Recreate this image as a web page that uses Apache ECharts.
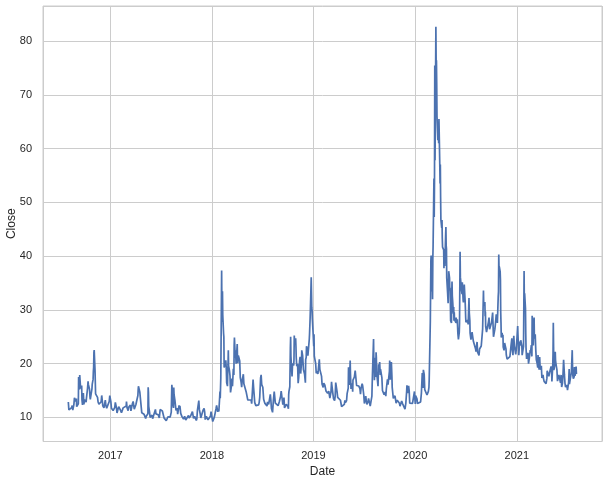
<!DOCTYPE html>
<html>
<head>
<meta charset="utf-8">
<script src="https://cdn.jsdelivr.net/npm/echarts@6/dist/echarts.min.js"></script>
<style>
html,body{margin:0;padding:0;background:#fff;}
#chart{width:608px;height:482px;}
</style>
</head>
<body>
<div id="chart"></div>
<script>
// Dates and closing values
const dates = [
"2016-08-03","2016-08-05","2016-08-09","2016-08-11","2016-08-15","2016-08-17","2016-08-19","2016-08-23","2016-08-25","2016-08-26","2016-08-30","2016-09-01","2016-09-02","2016-09-06","2016-09-08","2016-09-09","2016-09-12","2016-09-13","2016-09-14","2016-09-15","2016-09-16","2016-09-19","2016-09-20","2016-09-21","2016-09-23","2016-09-26","2016-09-28","2016-09-30","2016-10-04","2016-10-06","2016-10-07","2016-10-11","2016-10-13","2016-10-14","2016-10-18","2016-10-20","2016-10-21","2016-10-25","2016-10-27","2016-10-28","2016-10-31","2016-11-01","2016-11-02","2016-11-03","2016-11-04","2016-11-07","2016-11-08","2016-11-09","2016-11-10","2016-11-11","2016-11-14","2016-11-16","2016-11-18","2016-11-21","2016-11-23","2016-11-25","2016-11-29","2016-12-01","2016-12-02","2016-12-05","2016-12-07","2016-12-09","2016-12-12","2016-12-14","2016-12-16","2016-12-19","2016-12-21","2016-12-23","2016-12-28","2016-12-30",
"2017-01-03","2017-01-05","2017-01-09","2017-01-11","2017-01-13","2017-01-17","2017-01-19","2017-01-23","2017-01-25","2017-01-27","2017-01-31","2017-02-02","2017-02-06","2017-02-08","2017-02-10","2017-02-14","2017-02-16","2017-02-21","2017-02-23","2017-02-27","2017-02-28","2017-03-02","2017-03-06","2017-03-08","2017-03-10","2017-03-14","2017-03-16","2017-03-20","2017-03-21","2017-03-22","2017-03-24","2017-03-28","2017-03-30","2017-04-03","2017-04-05","2017-04-07","2017-04-10","2017-04-11","2017-04-12","2017-04-13","2017-04-17","2017-04-19","2017-04-21","2017-04-24","2017-04-26","2017-04-28","2017-05-02","2017-05-04","2017-05-08","2017-05-10","2017-05-12","2017-05-16","2017-05-17","2017-05-18","2017-05-19","2017-05-22","2017-05-24","2017-05-26","2017-05-31","2017-06-02","2017-06-06","2017-06-08","2017-06-09","2017-06-12","2017-06-14","2017-06-16","2017-06-20","2017-06-22","2017-06-26","2017-06-29","2017-06-30","2017-07-05","2017-07-07","2017-07-11","2017-07-13","2017-07-17","2017-07-19","2017-07-21","2017-07-25","2017-07-27","2017-07-31","2017-08-02","2017-08-04","2017-08-08","2017-08-09","2017-08-10","2017-08-11","2017-08-14","2017-08-15","2017-08-16","2017-08-17","2017-08-18","2017-08-21","2017-08-23","2017-08-25","2017-08-29","2017-08-31","2017-09-05","2017-09-07","2017-09-08","2017-09-11","2017-09-13","2017-09-15","2017-09-19","2017-09-21","2017-09-25","2017-09-27","2017-09-29","2017-10-03","2017-10-05","2017-10-09","2017-10-11","2017-10-13","2017-10-17","2017-10-19","2017-10-23","2017-10-25","2017-10-27","2017-10-31","2017-11-02","2017-11-06","2017-11-08","2017-11-10","2017-11-14","2017-11-15","2017-11-17","2017-11-20","2017-11-22","2017-11-24","2017-11-28","2017-11-30","2017-12-04","2017-12-06","2017-12-08","2017-12-12","2017-12-14","2017-12-18","2017-12-20","2017-12-22","2017-12-27","2017-12-29",
"2018-01-02","2018-01-04","2018-01-08","2018-01-10","2018-01-12","2018-01-16","2018-01-18","2018-01-22","2018-01-24","2018-01-26","2018-01-29","2018-01-30","2018-01-31","2018-02-01","2018-02-02","2018-02-05","2018-02-06","2018-02-07","2018-02-08","2018-02-09","2018-02-12","2018-02-13","2018-02-14","2018-02-15","2018-02-16","2018-02-20","2018-02-22","2018-02-23","2018-02-26","2018-02-27","2018-02-28","2018-03-01","2018-03-02","2018-03-05","2018-03-07","2018-03-09","2018-03-12","2018-03-14","2018-03-16","2018-03-19","2018-03-21","2018-03-22","2018-03-23","2018-03-26","2018-03-27","2018-03-28","2018-03-29","2018-04-02","2018-04-03","2018-04-04","2018-04-06","2018-04-09","2018-04-11","2018-04-13","2018-04-16","2018-04-18","2018-04-20","2018-04-24","2018-04-26","2018-04-30","2018-05-02","2018-05-04","2018-05-08","2018-05-10","2018-05-14","2018-05-16","2018-05-18","2018-05-22","2018-05-24","2018-05-29","2018-05-31","2018-06-04","2018-06-06","2018-06-08","2018-06-12","2018-06-14","2018-06-18","2018-06-20","2018-06-22","2018-06-25","2018-06-27","2018-06-29","2018-07-03","2018-07-06","2018-07-10","2018-07-12","2018-07-16","2018-07-18","2018-07-20","2018-07-24","2018-07-26","2018-07-30","2018-08-01","2018-08-03","2018-08-07","2018-08-09","2018-08-10","2018-08-13","2018-08-15","2018-08-17","2018-08-21","2018-08-23","2018-08-27","2018-08-29","2018-08-31","2018-09-05","2018-09-07","2018-09-11","2018-09-13","2018-09-17","2018-09-19","2018-09-21","2018-09-25","2018-09-27","2018-10-01","2018-10-03","2018-10-04","2018-10-05","2018-10-08","2018-10-09","2018-10-10","2018-10-11","2018-10-12","2018-10-15","2018-10-16","2018-10-17","2018-10-18","2018-10-19","2018-10-22","2018-10-23","2018-10-24","2018-10-25","2018-10-26","2018-10-29","2018-10-30","2018-10-31","2018-11-02","2018-11-05","2018-11-07","2018-11-08","2018-11-09","2018-11-12","2018-11-14","2018-11-15","2018-11-16","2018-11-19","2018-11-20","2018-11-23","2018-11-26","2018-11-28","2018-11-30","2018-12-03","2018-12-04","2018-12-06","2018-12-07","2018-12-10","2018-12-12","2018-12-14","2018-12-17","2018-12-18","2018-12-19","2018-12-20","2018-12-21","2018-12-24","2018-12-26","2018-12-27","2018-12-28","2018-12-31",
"2019-01-02","2019-01-03","2019-01-04","2019-01-07","2019-01-09","2019-01-11","2019-01-15","2019-01-17","2019-01-22","2019-01-24","2019-01-28","2019-01-30","2019-02-01","2019-02-05","2019-02-07","2019-02-11","2019-02-13","2019-02-15","2019-02-19","2019-02-21","2019-02-25","2019-02-27","2019-03-01","2019-03-05","2019-03-07","2019-03-08","2019-03-12","2019-03-14","2019-03-18","2019-03-20","2019-03-22","2019-03-25","2019-03-27","2019-03-29","2019-04-02","2019-04-04","2019-04-08","2019-04-10","2019-04-12","2019-04-16","2019-04-18","2019-04-22","2019-04-24","2019-04-26","2019-04-30","2019-05-02","2019-05-06","2019-05-07","2019-05-09","2019-05-10","2019-05-13","2019-05-14","2019-05-16","2019-05-20","2019-05-22","2019-05-23","2019-05-28","2019-05-30","2019-05-31","2019-06-03","2019-06-05","2019-06-07","2019-06-11","2019-06-13","2019-06-17","2019-06-19","2019-06-21","2019-06-25","2019-06-27","2019-07-01","2019-07-03","2019-07-08","2019-07-10","2019-07-12","2019-07-16","2019-07-18","2019-07-22","2019-07-24","2019-07-26","2019-07-30","2019-07-31","2019-08-01","2019-08-02","2019-08-05","2019-08-06","2019-08-07","2019-08-08","2019-08-09","2019-08-12","2019-08-13","2019-08-14","2019-08-15","2019-08-16","2019-08-19","2019-08-21","2019-08-23","2019-08-26","2019-08-27","2019-08-29","2019-08-30","2019-09-04","2019-09-06","2019-09-10","2019-09-12","2019-09-16","2019-09-18","2019-09-20","2019-09-24","2019-09-26","2019-09-30","2019-10-01","2019-10-02","2019-10-03","2019-10-04","2019-10-07","2019-10-08","2019-10-10","2019-10-11","2019-10-15","2019-10-17","2019-10-21","2019-10-23","2019-10-25","2019-10-29","2019-10-31","2019-11-04","2019-11-06","2019-11-08","2019-11-12","2019-11-14","2019-11-18","2019-11-20","2019-11-22","2019-11-26","2019-11-29","2019-12-02","2019-12-03","2019-12-05","2019-12-09","2019-12-11","2019-12-13","2019-12-17","2019-12-19","2019-12-23","2019-12-26","2019-12-30","2019-12-31",
"2020-01-02","2020-01-03","2020-01-06","2020-01-08","2020-01-10","2020-01-14","2020-01-16","2020-01-21","2020-01-23","2020-01-24","2020-01-27","2020-01-28","2020-01-30","2020-01-31","2020-02-03","2020-02-05","2020-02-07","2020-02-11","2020-02-13","2020-02-18","2020-02-20","2020-02-21","2020-02-24","2020-02-25","2020-02-26","2020-02-27","2020-02-28","2020-03-02","2020-03-03","2020-03-04","2020-03-05","2020-03-06","2020-03-09","2020-03-10","2020-03-11","2020-03-12","2020-03-13","2020-03-16","2020-03-17","2020-03-18","2020-03-19","2020-03-20","2020-03-23","2020-03-24","2020-03-25","2020-03-26","2020-03-27","2020-03-30","2020-03-31","2020-04-01","2020-04-02","2020-04-03","2020-04-06","2020-04-07","2020-04-08","2020-04-09","2020-04-13","2020-04-14","2020-04-15","2020-04-16","2020-04-17","2020-04-20","2020-04-21","2020-04-22","2020-04-23","2020-04-24","2020-04-27","2020-04-28","2020-04-29","2020-04-30","2020-05-01","2020-05-04","2020-05-05","2020-05-06","2020-05-07","2020-05-08","2020-05-11","2020-05-12","2020-05-13","2020-05-14","2020-05-15","2020-05-18","2020-05-19","2020-05-20","2020-05-21","2020-05-22","2020-05-26","2020-05-27","2020-05-28","2020-05-29","2020-06-01","2020-06-02","2020-06-03","2020-06-04","2020-06-05","2020-06-08","2020-06-09","2020-06-10","2020-06-11","2020-06-12","2020-06-15","2020-06-16","2020-06-17","2020-06-18","2020-06-19","2020-06-22","2020-06-23","2020-06-24","2020-06-25","2020-06-26","2020-06-29","2020-06-30","2020-07-01","2020-07-02","2020-07-06","2020-07-08","2020-07-10","2020-07-13","2020-07-14","2020-07-16","2020-07-17","2020-07-20","2020-07-22","2020-07-24","2020-07-27","2020-07-29","2020-07-31","2020-08-04","2020-08-06","2020-08-07","2020-08-11","2020-08-13","2020-08-14","2020-08-18","2020-08-20","2020-08-24","2020-08-26","2020-08-28","2020-08-31","2020-09-02","2020-09-03","2020-09-04","2020-09-08","2020-09-09","2020-09-10","2020-09-11","2020-09-14","2020-09-16","2020-09-18","2020-09-21","2020-09-23","2020-09-24","2020-09-25","2020-09-29","2020-09-30","2020-10-02","2020-10-05","2020-10-06","2020-10-08","2020-10-09","2020-10-12","2020-10-14","2020-10-16","2020-10-19","2020-10-21","2020-10-23","2020-10-26","2020-10-27","2020-10-28","2020-10-29","2020-10-30","2020-11-02","2020-11-03","2020-11-04","2020-11-05","2020-11-06","2020-11-09","2020-11-10","2020-11-12","2020-11-13","2020-11-16","2020-11-18","2020-11-20","2020-11-23","2020-11-24","2020-11-27","2020-11-30","2020-12-02","2020-12-04","2020-12-07","2020-12-09","2020-12-11","2020-12-14","2020-12-16","2020-12-18","2020-12-21","2020-12-22","2020-12-23","2020-12-28","2020-12-30","2020-12-31",
"2021-01-04","2021-01-05","2021-01-06","2021-01-08","2021-01-11","2021-01-12","2021-01-14","2021-01-15","2021-01-19","2021-01-20","2021-01-22","2021-01-25","2021-01-26","2021-01-27","2021-01-28","2021-01-29","2021-02-01","2021-02-02","2021-02-03","2021-02-05","2021-02-08","2021-02-10","2021-02-12","2021-02-16","2021-02-18","2021-02-19","2021-02-22","2021-02-23","2021-02-24","2021-02-25","2021-02-26","2021-03-01","2021-03-03","2021-03-04","2021-03-05","2021-03-08","2021-03-10","2021-03-12","2021-03-15","2021-03-17","2021-03-18","2021-03-22","2021-03-24","2021-03-26","2021-03-30","2021-04-01","2021-04-05","2021-04-07","2021-04-09","2021-04-12","2021-04-14","2021-04-16","2021-04-19","2021-04-20","2021-04-22","2021-04-26","2021-04-28","2021-04-30","2021-05-03","2021-05-04","2021-05-06","2021-05-07","2021-05-10","2021-05-11","2021-05-12","2021-05-13","2021-05-14","2021-05-17","2021-05-18","2021-05-19","2021-05-20","2021-05-21","2021-05-25","2021-05-27","2021-06-01","2021-06-03","2021-06-07","2021-06-09","2021-06-11","2021-06-14","2021-06-16","2021-06-18","2021-06-21","2021-06-23","2021-06-25","2021-06-29","2021-07-01","2021-07-02","2021-07-06","2021-07-08","2021-07-09","2021-07-12","2021-07-14","2021-07-16","2021-07-19","2021-07-20","2021-07-21","2021-07-23","2021-07-26","2021-07-27","2021-07-29","2021-07-30","2021-08-02","2021-08-03"
];
const closes = [
12.86,11.39,11.50,11.68,11.81,12.19,11.34,12.38,13.63,13.65,12.94,13.48,11.98,12.02,12.51,17.50,15.16,17.85,18.14,16.30,15.37,15.53,15.92,13.30,12.29,14.50,12.39,13.29,13.63,12.84,13.48,15.36,16.69,16.12,15.28,13.75,13.34,13.46,15.36,16.19,17.06,18.56,19.32,22.08,22.51,18.71,18.74,14.38,14.74,14.17,14.48,13.72,12.85,12.42,12.43,12.34,12.90,14.07,14.12,12.14,12.22,11.75,12.64,13.19,12.20,11.71,11.43,11.44,12.95,14.04,
12.85,11.67,11.56,11.26,11.23,11.87,12.78,11.77,10.81,10.58,11.99,11.93,11.37,11.45,10.85,10.74,11.76,11.57,11.71,12.09,12.92,11.81,11.24,11.86,11.66,12.30,11.21,11.34,12.47,12.81,12.96,11.53,11.54,12.38,12.89,12.87,14.05,15.07,15.77,15.96,14.66,14.93,14.63,10.84,10.85,10.82,10.59,10.46,9.77,10.21,10.40,10.65,15.59,14.66,12.04,10.93,9.99,9.81,10.41,9.75,10.45,10.16,10.70,11.46,10.64,10.38,10.86,10.48,9.90,11.44,11.18,11.07,11.19,10.89,9.90,9.82,9.79,9.36,9.43,10.11,10.26,10.28,10.03,10.96,11.11,16.04,15.51,12.33,12.04,11.74,15.55,14.26,13.19,12.25,11.28,11.70,10.59,12.23,11.55,12.12,10.73,10.50,10.17,10.18,9.67,10.21,9.87,9.51,9.51,9.19,10.33,9.85,9.61,10.31,10.05,11.07,11.23,9.80,10.18,9.93,9.40,9.78,11.29,11.59,13.13,11.43,10.65,9.88,9.67,10.03,11.28,11.68,11.02,9.58,10.18,10.49,9.53,9.72,9.90,10.25,11.04,
9.77,9.22,9.52,10.08,10.16,11.66,12.22,11.03,11.47,11.08,13.84,14.79,13.54,13.47,17.31,37.32,29.98,27.73,33.46,29.06,25.61,24.97,19.26,19.13,19.46,20.60,18.72,16.49,15.80,18.59,19.85,22.47,19.59,18.73,17.76,14.64,15.78,17.23,15.80,19.02,17.86,23.34,24.87,21.03,22.50,22.87,19.97,23.62,21.10,20.06,21.49,21.77,20.47,17.41,16.56,15.60,16.88,18.02,16.24,15.93,15.97,14.77,14.71,13.23,12.93,13.42,13.42,13.22,12.53,17.02,15.43,12.74,12.40,12.18,12.35,12.12,12.31,12.79,13.77,17.33,17.91,16.09,15.60,13.37,12.64,12.58,12.83,12.10,12.86,12.41,12.14,14.26,13.15,11.64,10.93,11.27,13.16,14.78,14.64,12.64,12.86,12.41,12.16,12.25,12.86,13.91,14.88,13.22,12.37,13.68,11.75,11.68,12.42,12.41,12.00,11.61,14.22,14.82,15.69,15.95,22.96,24.98,21.31,21.30,17.62,17.40,20.06,19.89,19.64,20.71,25.23,24.22,24.16,24.70,23.35,21.23,19.51,19.96,16.36,16.72,17.36,20.45,21.25,19.98,18.14,20.10,22.48,21.52,18.90,18.49,18.07,16.44,20.74,21.19,23.23,22.64,21.46,21.63,24.52,25.58,25.58,28.38,30.11,36.07,30.41,29.96,28.34,25.42,
23.22,25.45,21.38,21.40,19.98,18.19,18.60,18.06,20.80,18.89,18.87,17.66,16.14,15.57,16.37,15.97,15.65,14.91,14.88,14.46,14.85,14.70,13.57,14.74,16.59,16.05,14.33,13.50,13.10,13.91,16.48,16.33,14.68,13.71,13.36,13.58,13.18,13.30,12.01,12.32,12.09,12.42,13.14,12.73,13.12,14.42,15.44,19.32,19.10,16.04,20.55,18.06,15.29,16.31,14.75,16.92,17.50,17.30,18.71,18.86,15.93,16.30,15.99,15.82,15.35,14.33,15.40,16.28,15.82,14.06,12.57,13.96,13.03,12.39,12.86,13.53,13.53,12.07,12.16,13.94,16.12,17.87,17.61,24.59,20.17,19.49,16.91,17.97,21.09,17.52,22.10,21.18,18.47,16.88,15.80,19.87,19.32,20.31,17.88,18.98,17.33,15.00,15.20,14.22,14.67,13.95,15.32,17.05,16.07,16.24,18.56,20.56,19.12,17.04,17.86,20.28,17.57,15.58,13.54,13.79,14.00,14.01,12.65,13.20,13.22,12.83,12.62,12.07,11.99,13.05,12.46,12.78,12.34,11.54,12.62,14.91,15.96,14.52,15.86,14.99,12.63,12.29,12.50,12.61,12.65,14.82,13.78,
12.47,14.02,13.85,13.45,12.56,12.39,12.32,12.85,12.98,14.56,18.23,16.28,15.49,18.84,17.97,15.15,15.47,15.18,14.15,14.83,15.56,17.08,25.03,27.85,27.56,39.16,40.11,33.42,36.82,31.99,39.62,41.94,54.46,47.30,53.90,75.47,57.83,82.69,75.91,76.45,72.00,66.04,61.59,61.67,63.95,61.00,65.54,57.08,53.54,57.06,50.91,46.80,45.24,46.70,43.35,41.67,41.17,37.76,40.84,40.11,38.15,43.83,45.41,41.98,41.38,35.93,33.29,33.57,31.23,34.15,37.19,35.97,33.61,34.12,31.44,27.98,27.57,33.04,35.28,32.61,31.89,29.30,30.53,27.99,29.53,28.16,28.01,27.62,28.59,27.51,28.23,26.84,25.66,25.81,24.52,25.81,27.57,27.57,40.79,36.09,34.40,33.67,33.47,32.94,35.12,31.77,31.37,33.84,32.22,34.73,31.78,30.43,28.62,27.68,27.94,28.08,27.29,32.19,29.52,28.00,25.68,24.46,24.32,25.84,24.74,24.10,24.46,23.76,22.65,22.21,24.03,22.13,22.05,21.51,22.72,22.37,23.27,22.96,26.41,26.57,33.60,30.75,31.46,28.81,29.71,26.87,25.85,26.04,25.83,27.78,28.58,28.51,26.38,26.27,26.37,27.63,27.96,29.48,26.36,25.00,25.07,26.40,27.41,29.18,28.65,27.55,32.46,33.35,40.28,37.59,38.02,37.13,35.55,29.57,27.58,24.86,25.75,24.80,25.35,23.10,22.45,23.84,23.70,22.66,21.64,20.84,20.57,21.17,20.79,21.30,22.27,23.31,24.72,22.50,21.57,25.16,24.23,23.31,21.70,22.77,22.75,
26.97,25.34,25.07,21.56,24.08,23.33,23.25,24.34,23.24,21.58,21.91,23.19,23.02,37.21,30.21,33.09,30.24,25.56,22.91,20.87,21.24,21.99,19.97,21.46,22.49,22.05,23.45,23.11,21.34,28.89,27.95,23.35,26.67,28.57,24.66,25.47,22.56,20.69,20.03,19.23,21.58,18.88,21.20,18.86,19.61,17.33,17.91,17.16,16.69,16.91,16.99,16.25,17.29,18.68,18.71,17.64,17.28,18.61,18.31,19.48,18.39,16.69,19.66,21.84,27.59,23.13,18.81,19.72,21.34,22.18,20.67,20.15,18.84,16.74,17.90,18.04,16.42,17.89,15.65,16.39,18.15,20.70,17.89,16.32,15.62,16.02,15.48,15.07,16.44,19.00,16.18,16.17,16.33,18.45,22.50,19.73,17.91,17.20,17.58,19.36,17.70,18.24,19.46,18.04
];
const yTicks = [10, 20, 30, 40, 50, 60, 70, 80];
const xTickYears = [2017, 2018, 2019, 2020, 2021];

const seriesData = dates.map((d, i) => [d, closes[i]]);
const textColor = '#262626';
const gridColor = '#cccccc';
const font = 'Arial, "Liberation Sans", sans-serif';

const chart = echarts.init(document.getElementById('chart'), null, {renderer: 'canvas'});
chart.setOption({
  animation: false,
  backgroundColor: '#ffffff',
  grid: {left: 43, right: 6, top: 6, bottom: 40.5, show: true, borderColor: gridColor, borderWidth: 1,
         containLabel: false, outerBoundsMode: 'none'},
  xAxis: {
    type: 'time',
    min: '2016-05-04',
    max: '2021-11-03',
    minInterval: 365 * 86400000,
    maxInterval: 366 * 86400000,
    name: 'Date',
    nameLocation: 'middle',
    nameGap: 24,
    nameMoveOverlap: false,
    nameTextStyle: {color: textColor, fontSize: 12, fontFamily: font},
    axisLine: {show: false},
    axisTick: {show: false},
    axisLabel: {
      color: textColor, fontSize: 11, fontFamily: font, margin: 9,
      showMinLabel: false, showMaxLabel: false,
      formatter: function (v) {
        const y = new Date(v).getFullYear();
        return xTickYears.indexOf(y) >= 0 ? String(y) : '';
      }
    },
    splitLine: {show: true, lineStyle: {color: gridColor, width: 1}}
  },
  yAxis: {
    type: 'value',
    min: 5.5,
    max: 86.55,
    splitNumber: 8,
    name: 'Close',
    nameLocation: 'middle',
    nameGap: 25,
    nameMoveOverlap: false,
    nameTextStyle: {color: textColor, fontSize: 12, fontFamily: font},
    axisLine: {show: false},
    axisTick: {show: false},
    axisLabel: {
      color: textColor, fontSize: 11, fontFamily: font, margin: 11,
      showMinLabel: false, showMaxLabel: false,
      formatter: function (v) { return yTicks.indexOf(Math.round(v)) >= 0 && Math.abs(v - Math.round(v)) < 1e-6 ? String(v) : ''; }
    },
    splitLine: {show: true, lineStyle: {color: gridColor, width: 1}}
  },
  series: [{
    type: 'line',
    data: seriesData,
    showSymbol: false,
    symbol: 'none',
    sampling: null,
    lineStyle: {color: '#4c72b0', width: 1.7},
    itemStyle: {color: '#4c72b0'}
  }]
});
</script>
</body>
</html>
